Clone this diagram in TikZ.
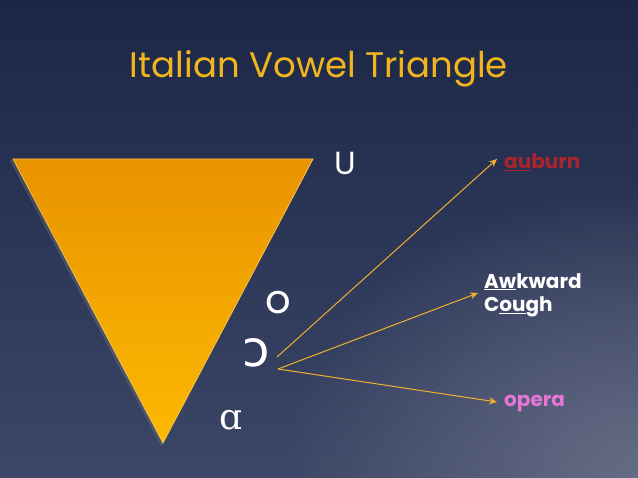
\documentclass[tikz,border=0pt]{standalone}
\usepackage{fontspec}
\setmainfont{Poppins}
\newfontfamily\ipasans{DejaVu Sans}
\newfontfamily\ipaserif{DejaVu Serif}
\usetikzlibrary{arrows.meta,fadings}
\tikzfading[name=glowfade, inner color=transparent!0, outer color=transparent!100]
\definecolor{bgtop}{HTML}{1C2647}
\definecolor{bgbot}{HTML}{3C4666}
\definecolor{bgglow}{HTML}{6A7189}
\definecolor{tritop}{HTML}{E89300}
\definecolor{tribot}{HTML}{FDB900}
\definecolor{triedge}{HTML}{F7C348}
\definecolor{titlecol}{HTML}{F2B61C}
\definecolor{arrowcol}{HTML}{F2B230}
\definecolor{auburncol}{HTML}{A8252D}
\definecolor{operacol}{HTML}{E477D6}
\tikzset{
  vowel/.style={text=white, inner sep=0pt, anchor=center},
  word/.style={font=\fontsize{20}{23}\selectfont\bfseries, inner sep=0pt, anchor=west, align=left},
  pointer/.style={draw=arrowcol, line width=1pt, -{Stealth[length=8pt,width=7pt]}}
}
\begin{document}
\begin{tikzpicture}[x=1pt,y=-1pt]
\useasboundingbox (0,0) rectangle (638,478);
% background
\shade[top color=bgtop, bottom color=bgbot] (0,0) rectangle (638,478);
\begin{scope}
\clip (0,0) rectangle (638,478);
\fill[bgglow, path fading=glowfade, fit fading=true, opacity=0.9] (638,478) ellipse [x radius=360, y radius=290];
\end{scope}
% triangle shadow / glow
\fill[black, opacity=0.12] (9,161) -- (309,161) -- (161,447) -- cycle;
\draw[white, opacity=0.15, line width=3pt] (11,160) -- (162,445);
% triangle
\shade[top color=tritop, bottom color=tribot, draw=triedge, line width=0.8pt]
  (13,159) -- (313,159) -- (163,443) -- cycle;
% title
\node[text=titlecol, font=\fontsize{35.5}{40}\selectfont, inner sep=0pt] (title) at (319,69) {Italian Vowel Triangle};
% vowels
\node[vowel, font=\fontsize{32}{36}\selectfont] (u) at (345,163) {U};
\node[vowel, font=\fontsize{40}{44}\selectfont] (o) at (278,303) {o};
\node[vowel, font=\ipasans\fontsize{50}{56}\selectfont] (oo) at (256,353) {ɔ};
\node[vowel, font=\ipaserif\fontsize{36}{40}\selectfont] (a) at (231,420) {ɑ};
% words
\node[word, text=auburncol] (auburn) at (504,162) {\underline{au}burn};
\node[word, text=white] (awk) at (484,295) {\underline{Aw}kward\\C\underline{ou}gh};
\node[word, text=operacol] (opera) at (504,404) {opera};
% connectors
\coordinate (s1) at (277,357);
\coordinate (s2) at (278,369);
\coordinate (t1) at (497,159);
\coordinate (t2) at (478,293);
\coordinate (t3) at (497,402);
\draw[pointer] (s1) -- (t1);
\draw[pointer] (s2) -- (t2);
\draw[pointer] (s2) -- (t3);
\end{tikzpicture}
\end{document}
